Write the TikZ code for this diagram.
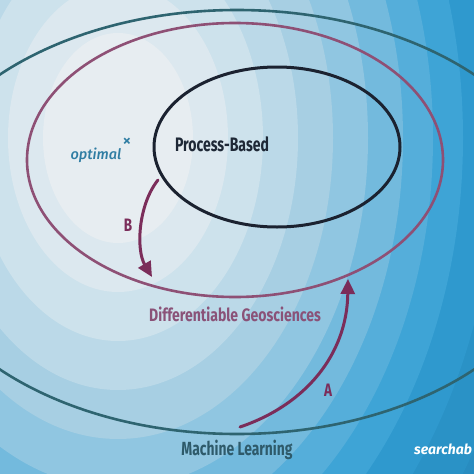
\documentclass[tikz,border=0pt]{standalone}
\usepackage{fontspec}
\setmainfont{Fira Sans}
\newfontfamily\optfont{Fira Sans Medium}[ItalicFont={Fira Sans Medium Italic}]
\usetikzlibrary{arrows.meta}
\definecolor{tealline}{HTML}{2E6470}
\definecolor{pinkline}{HTML}{8E5075}
\definecolor{blackline}{HTML}{1B2230}
\definecolor{arrowcol}{HTML}{7B2D5A}
\definecolor{pbtext}{HTML}{1E2836}
\definecolor{dgtext}{HTML}{8A5278}
\definecolor{mltext}{HTML}{2E5A6A}
\definecolor{opttext}{HTML}{2F7DA3}
\tikzset{
  ring/.style={line width=2.6pt},
  flow/.style={line width=3pt, draw=arrowcol, -{Triangle[length=15pt,width=14pt]}},
  lbl/.style={font=\bfseries, inner sep=0pt},
}
\begin{document}
\begin{tikzpicture}[x=1pt,y=-1pt]
\clip (0,0) rectangle (474,474);
\useasboundingbox (0,0) rectangle (474,474);
% background contour bands
\fill[fill={rgb,255:red,40;green,140;blue,192}] (0,0) rectangle (474,474);
\foreach \r/\cr/\cg/\cb in {420/42/146/198, 380/47/153/206, 345/62/164/214, 315/85/174/218, 285/115/186/221, 250/144/198/225, 215/167/207/227, 180/187/217/232, 145/205/226/236, 110/220/232/239, 75/231/237/241}{
  \fill[fill={rgb,255:red,\cr;green,\cg;blue,\cb}] (118,138) ellipse ({\r} and {1.4*\r});
}
% ellipses
\coordinate (mlc) at (237,222);
\coordinate (dgc) at (235,160);
\coordinate (pbc) at (277,147);
\draw[ring, tealline] (mlc) ellipse (330 and 212);
\draw[ring, pinkline] (dgc) ellipse (208 and 137);
\draw[ring, blackline, line width=3pt] (pbc) ellipse (123 and 80);
% labels
\node[lbl, text=pbtext, font=\bfseries\fontsize{19.5}{19.5}\selectfont] (pb) at (222,144) {\scalebox{0.72}[1]{Process-Based}};
\node[lbl, text=dgtext, font=\bfseries\fontsize{18}{18}\selectfont] (dg) at (235,314) {\scalebox{0.78}[1]{Differentiable Geosciences}};
\node[lbl, text=mltext, font=\bfseries\fontsize{19}{19}\selectfont] (ml) at (237,450) {\scalebox{0.73}[1]{Machine Learning}};
\node[inner sep=0pt, text=opttext, font=\optfont\itshape\fontsize{14.5}{14.5}\selectfont] (opt) at (96,155) {optimal};
\node[inner sep=0pt, text=opttext, font=\optfont\fontsize{17}{17}\selectfont] (optx) at (127,142) {×};
\node[lbl, anchor=west, text=white, font=\bfseries\itshape\fontsize{14}{14}\selectfont] (sa) at (414,449) {searchab};
% arrows
\coordinate (bs) at (158,180);
\coordinate (bt) at (152,277);
\coordinate (as) at (240,427);
\coordinate (at) at (348,279);
\draw[flow, line cap=round] (bs) .. controls (138,205) and (136,250) .. (bt);
\draw[flow, line cap=round] (as) .. controls (305,405) and (347,355) .. (at);
\node[lbl, text=arrowcol, font=\bfseries\fontsize{18}{18}\selectfont] (b) at (128,225) {\scalebox{0.75}[1]{B}};
\node[lbl, text=arrowcol, font=\bfseries\fontsize{18}{18}\selectfont] (a) at (328,390) {\scalebox{0.75}[1]{A}};
\end{tikzpicture}
\end{document}
